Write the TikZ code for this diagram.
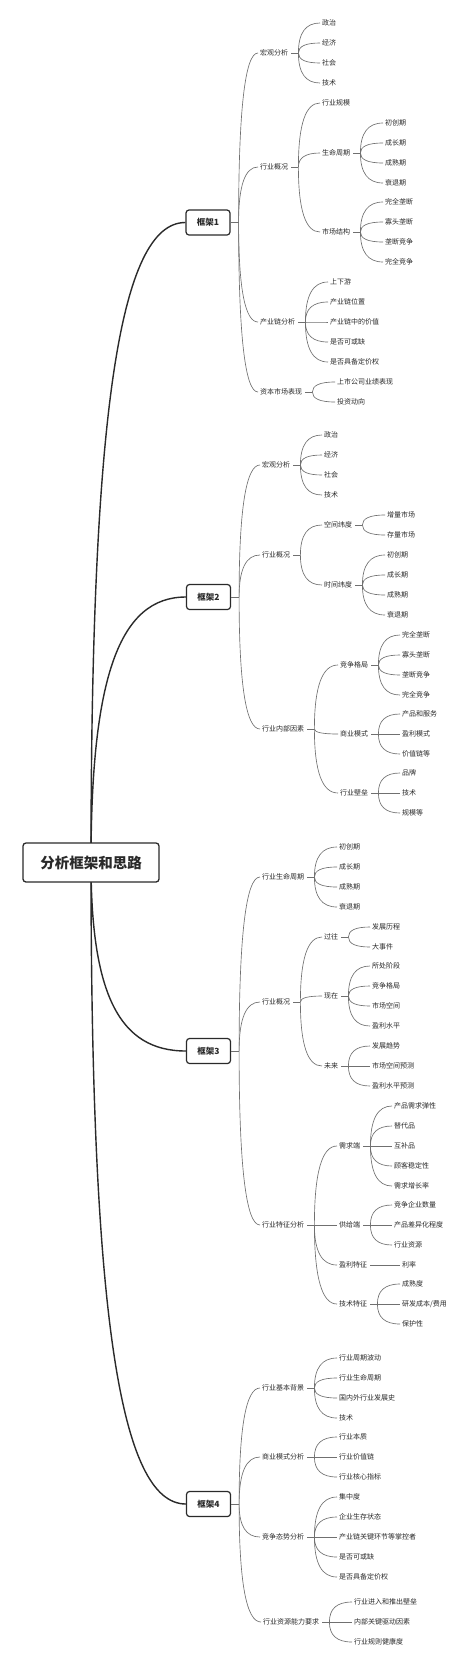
\documentclass[tikz,border=0pt]{standalone}
\usepackage{fontspec}
\setmainfont{Noto Sans CJK SC}
\usetikzlibrary{calc,backgrounds}
\definecolor{txt}{HTML}{2A2A2A}
\definecolor{lin}{HTML}{707070}
\definecolor{dark}{HTML}{2A2A2A}
\tikzset{
  t/.style={anchor=west, inner xsep=0pt, inner ysep=1pt, font=\fontsize{7}{8}\selectfont, text=txt},
  conn/.style={draw=lin, line width=0.65pt},
  framebox/.style={draw=dark, line width=1.2pt, rounded corners=3pt, minimum width=44pt, minimum height=25pt, inner sep=0pt, fill=white, text=txt, font=\bfseries\fontsize{8.5}{10}\selectfont},
  rootbox/.style={draw=dark, line width=1.3pt, rounded corners=3pt, minimum width=136pt, minimum height=39pt, inner sep=0pt, fill=white, text=txt, font=\bfseries\fontsize{14.5}{16}\selectfont},
  rootconn/.style={draw=dark, line width=1.4pt},
}
\newcommand\myfan[4]{%
  \draw[conn] ([xshift=#1]#3.east) -- ([xshift=#2]#3.east) coordinate (#3j);
  \foreach \c in {#4}{%
    \coordinate (k) at (#3j |- \c.west);
    \draw[conn] (#3j) .. controls ($(#3j)!0.667!(k)$) and ($([xshift=-2pt]\c.west)!0.667!(k)$) .. ([xshift=-2pt]\c.west);
  }%
}
\newcommand\fan[2]{\myfan{3pt}{10pt}{#1}{#2}}
\newcommand\ffan[2]{\myfan{0pt}{8pt}{#1}{#2}}
\newcommand\rconn[1]{%
  \draw[rootconn] (root.center) .. controls ($(root.center)!0.7!(root.center |- #1.west)$) and ($(#1.west)!0.7!(#1.west -| root.center)$) .. (#1.west);
}
\begin{document}
\begin{tikzpicture}[x=1pt,y=-1pt]
\useasboundingbox (0,0) rectangle (474,1668);
% root and frames
\node[rootbox] (root) at (91,862.5) {分析框架和思路};
\node[framebox] (f1) at (208,222.5) {框架1};
\node[framebox] (f2) at (208.5,597) {框架2};
\node[framebox] (f3) at (208.5,1051) {框架3};
\node[framebox] (f4) at (208.5,1504) {框架4};
\begin{scope}[on background layer]
  \fill[white] (0,0) rectangle (474,1668);
  \rconn{f1}\rconn{f2}\rconn{f3}\rconn{f4}
\end{scope}
% ---------- frame 1
\node[t] (a1) at (260,53) {宏观分析};
\node[t] (a11) at (322,23) {政治};
\node[t] (a12) at (322,43) {经济};
\node[t] (a13) at (322,63) {社会};
\node[t] (a14) at (322,83) {技术};
\node[t] (a2) at (260,167) {行业概况};
\node[t] (a21) at (322,103) {行业规模};
\node[t] (a22) at (322,153) {生命周期};
\node[t] (a221) at (385,123) {初创期};
\node[t] (a222) at (385,143) {成长期};
\node[t] (a223) at (385,163) {成熟期};
\node[t] (a224) at (385,183) {衰退期};
\node[t] (a23) at (322,232) {市场结构};
\node[t] (a231) at (385,202) {完全垄断};
\node[t] (a232) at (385,222) {寡头垄断};
\node[t] (a233) at (385,242) {垄断竞争};
\node[t] (a234) at (385,262) {完全竞争};
\node[t] (a3) at (260,322) {产业链分析};
\node[t] (a31) at (330,282) {上下游};
\node[t] (a32) at (330,302) {产业链位置};
\node[t] (a33) at (330,322) {产业链中的价值};
\node[t] (a34) at (330,342) {是否可或缺};
\node[t] (a35) at (330,362) {是否具备定价权};
\node[t] (a4) at (260,392) {资本市场表现};
\node[t] (a41) at (337,382) {上市公司业绩表现};
\node[t] (a42) at (337,402) {投资动向};
\ffan{f1}{a1,a2,a3,a4}
\fan{a1}{a11,a12,a13,a14}
\fan{a2}{a21,a22,a23}
\fan{a22}{a221,a222,a223,a224}
\fan{a23}{a231,a232,a233,a234}
\fan{a3}{a31,a32,a33,a34,a35}
\fan{a4}{a41,a42}
% ---------- frame 2
\node[t] (b1) at (262,465) {宏观分析};
\node[t] (b11) at (324,435) {政治};
\node[t] (b12) at (324,455) {经济};
\node[t] (b13) at (324,475) {社会};
\node[t] (b14) at (324,495) {技术};
\node[t] (b2) at (262,555) {行业概况};
\node[t] (b21) at (324,525) {空间纬度};
\node[t] (b211) at (387,515) {增量市场};
\node[t] (b212) at (387,535) {存量市场};
\node[t] (b22) at (324,585) {时间纬度};
\node[t] (b221) at (387,555) {初创期};
\node[t] (b222) at (387,575) {成长期};
\node[t] (b223) at (387,595) {成熟期};
\node[t] (b224) at (387,615) {衰退期};
\node[t] (b3) at (262,729) {行业内部因素};
\node[t] (b31) at (340,665) {竞争格局};
\node[t] (b311) at (402,635) {完全垄断};
\node[t] (b312) at (402,655) {寡头垄断};
\node[t] (b313) at (402,675) {垄断竞争};
\node[t] (b314) at (402,695) {完全竞争};
\node[t] (b32) at (340,734) {商业模式};
\node[t] (b321) at (402,714) {产品和服务};
\node[t] (b322) at (402,734) {盈利模式};
\node[t] (b323) at (402,754) {价值链等};
\node[t] (b33) at (340,793) {行业壁垒};
\node[t] (b331) at (402,773) {品牌};
\node[t] (b332) at (402,793) {技术};
\node[t] (b333) at (402,813) {规模等};
\ffan{f2}{b1,b2,b3}
\fan{b1}{b11,b12,b13,b14}
\fan{b2}{b21,b22}
\fan{b21}{b211,b212}
\fan{b22}{b221,b222,b223,b224}
\fan{b3}{b31,b32,b33}
\fan{b31}{b311,b312,b313,b314}
\fan{b32}{b321,b322,b323}
\fan{b33}{b331,b332,b333}
% ---------- frame 3
\node[t] (c1) at (262,877) {行业生命周期};
\node[t] (c11) at (339,847) {初创期};
\node[t] (c12) at (339,867) {成长期};
\node[t] (c13) at (339,887) {成熟期};
\node[t] (c14) at (339,907) {衰退期};
\node[t] (c2) at (262,1002) {行业概况};
\node[t] (c21) at (324,937) {过往};
\node[t] (c211) at (372,927) {发展历程};
\node[t] (c212) at (372,947) {大事件};
\node[t] (c22) at (324,996) {现在};
\node[t] (c221) at (372,966) {所处阶段};
\node[t] (c222) at (372,986) {竞争格局};
\node[t] (c223) at (372,1006) {市场空间};
\node[t] (c224) at (372,1026) {盈利水平};
\node[t] (c23) at (324,1066) {未来};
\node[t] (c231) at (372,1046) {发展趋势};
\node[t] (c232) at (372,1066) {市场空间预测};
\node[t] (c233) at (372,1086) {盈利水平预测};
\node[t] (c3) at (262,1225) {行业特征分析};
\node[t] (c31) at (339,1146) {需求端};
\node[t] (c311) at (394,1106) {产品需求弹性};
\node[t] (c312) at (394,1126) {替代品};
\node[t] (c313) at (394,1146) {互补品};
\node[t] (c314) at (394,1166) {顾客稳定性};
\node[t] (c315) at (394,1186) {需求增长率};
\node[t] (c32) at (339,1225) {供给端};
\node[t] (c321) at (394,1205) {竞争企业数量};
\node[t] (c322) at (394,1225) {产品差异化程度};
\node[t] (c323) at (394,1245) {行业资源};
\node[t] (c33) at (339,1265) {盈利特征};
\node[t] (c331) at (402,1265) {利率};
\node[t] (c34) at (339,1304) {技术特征};
\node[t] (c341) at (402,1284) {成熟度};
\node[t] (c342) at (402,1304) {研发成本/费用};
\node[t] (c343) at (402,1324) {保护性};
\ffan{f3}{c1,c2,c3}
\fan{c1}{c11,c12,c13,c14}
\fan{c2}{c21,c22,c23}
\fan{c21}{c211,c212}
\fan{c22}{c221,c222,c223,c224}
\fan{c23}{c231,c232,c233}
\fan{c3}{c31,c32,c33,c34}
\fan{c31}{c311,c312,c313,c314,c315}
\fan{c32}{c321,c322,c323}
\fan{c33}{c331}
\fan{c34}{c341,c342,c343}
% ---------- frame 4
\node[t] (d1) at (262,1388) {行业基本背景};
\node[t] (d11) at (339,1358) {行业周期波动};
\node[t] (d12) at (339,1378) {行业生命周期};
\node[t] (d13) at (339,1398) {国内外行业发展史};
\node[t] (d14) at (339,1418) {技术};
\node[t] (d2) at (262,1457) {商业模式分析};
\node[t] (d21) at (339,1437) {行业本质};
\node[t] (d22) at (339,1457) {行业价值链};
\node[t] (d23) at (339,1477) {行业核心指标};
\node[t] (d3) at (262,1537) {竞争态势分析};
\node[t] (d31) at (339,1497) {集中度};
\node[t] (d32) at (339,1517) {企业生存状态};
\node[t] (d33) at (339,1537) {产业链关键环节等掌控者};
\node[t] (d34) at (339,1557) {是否可或缺};
\node[t] (d35) at (339,1577) {是否具备定价权};
\node[t] (d4) at (263,1622) {行业资源能力要求};
\node[t] (d41) at (354,1602) {行业进入和推出壁垒};
\node[t] (d42) at (354,1622) {内部关键驱动因素};
\node[t] (d43) at (354,1642) {行业规则健康度};
\ffan{f4}{d1,d2,d3,d4}
\fan{d1}{d11,d12,d13,d14}
\fan{d2}{d21,d22,d23}
\fan{d3}{d31,d32,d33,d34,d35}
\fan{d4}{d41,d42,d43}
\end{tikzpicture}
\end{document}
